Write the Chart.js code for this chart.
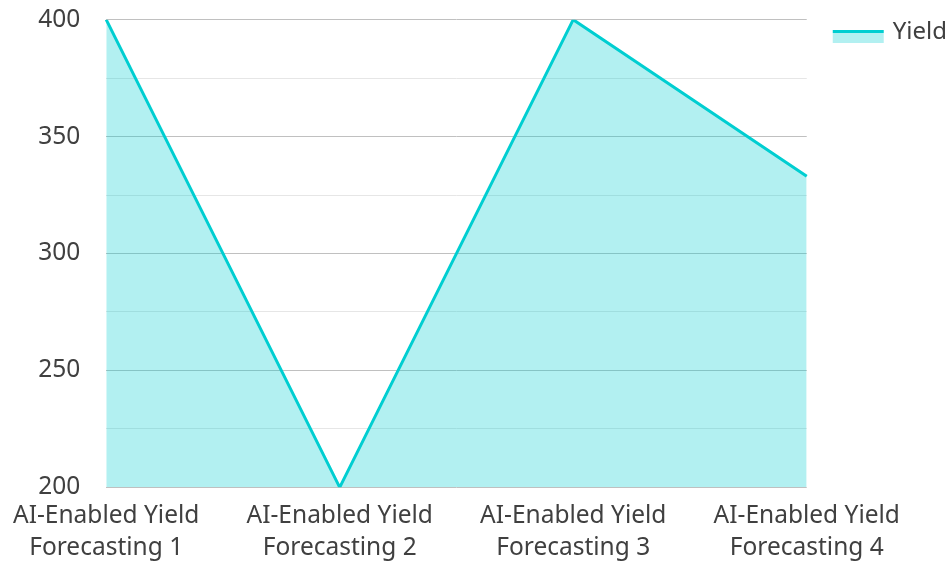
<!DOCTYPE html>
<html>
<head>
<meta charset="utf-8">
<script src="https://cdn.jsdelivr.net/npm/chart.js@4/dist/chart.umd.min.js"></script>
<style>
  html, body { margin: 0; padding: 0; background: #ffffff; }
  #wrap { width: 949px; height: 562px; position: relative; }
</style>
</head>
<body>
<div id="wrap"><canvas id="chart"></canvas></div>
<script>
// Yield per forecasting stage
const categories = [
  ["AI-Enabled Yield", "Forecasting 1"],
  ["AI-Enabled Yield", "Forecasting 2"],
  ["AI-Enabled Yield", "Forecasting 3"],
  ["AI-Enabled Yield", "Forecasting 4"]
];
const yieldValues = [400, 200, 400, 333];
const seriesName = "Yield";

const lineColor = "#00CED1";
const fillColor = "rgba(0, 206, 209, 0.3)";
const textColor = "#404040";
const fontFamily = "'Noto Sans', 'Open Sans', sans-serif";

// Legend swatch: a thick line over a filled band, offset inside a transparent canvas
function makeSwatch() {
  const c = document.createElement("canvas");
  c.width = 62; c.height = 22;
  const g = c.getContext("2d");
  g.fillStyle = fillColor;
  g.fillRect(10, 12, 51, 10);
  g.fillStyle = lineColor;
  g.fillRect(10, 9, 51, 3);
  return c;
}
const swatch = makeSwatch();

new Chart(document.getElementById("chart"), {
  type: "line",
  data: {
    labels: categories,
    datasets: [{
      label: seriesName,
      data: yieldValues,
      borderColor: lineColor,
      backgroundColor: fillColor,
      borderWidth: 3,
      fill: "start",
      tension: 0,
      pointRadius: 0,
      pointHoverRadius: 0
    }]
  },
  options: {
    responsive: true,
    maintainAspectRatio: false,
    animation: false,
    layout: { padding: { top: 0, right: -8, left: 0, bottom: -15 } },
    plugins: {
      tooltip: { enabled: false },
      legend: {
        position: "right",
        align: "start",
        labels: {
          usePointStyle: true,
          pointStyleWidth: 54,
          padding: 20,
          color: textColor,
          font: { family: fontFamily, size: 24 },
          generateLabels: (chart) => chart.data.datasets.map((ds, i) => ({
            text: ds.label,
            pointStyle: swatch,
            fillStyle: ds.backgroundColor,
            strokeStyle: ds.borderColor,
            lineWidth: 0,
            fontColor: textColor,
            datasetIndex: i,
            hidden: false
          }))
        }
      }
    },
    scales: {
      x: {
        offset: false,
        grid: { display: false, drawTicks: false },
        border: { display: false },
        ticks: {
          color: textColor,
          font: { family: fontFamily, size: 24.5, lineHeight: 1.3 },
          maxRotation: 0,
          autoSkip: false,
          padding: 13
        }
      },
      y: {
        min: 200,
        max: 400,
        border: { display: false },
        grid: {
          drawTicks: true,
          tickLength: 21,
          tickColor: "rgba(0,0,0,0)",
          lineWidth: 1,
          color: (ctx) => (ctx.tick && ctx.tick.value % 50 === 0) ? "#c0c0c0" : "#e6e6e6"
        },
        ticks: {
          stepSize: 25,
          padding: 5,
          color: textColor,
          font: { family: fontFamily, size: 24.5 },
          callback: (v) => (v % 50 === 0 ? String(v) : "")
        }
      }
    }
  }
});
</script>
</body>
</html>
